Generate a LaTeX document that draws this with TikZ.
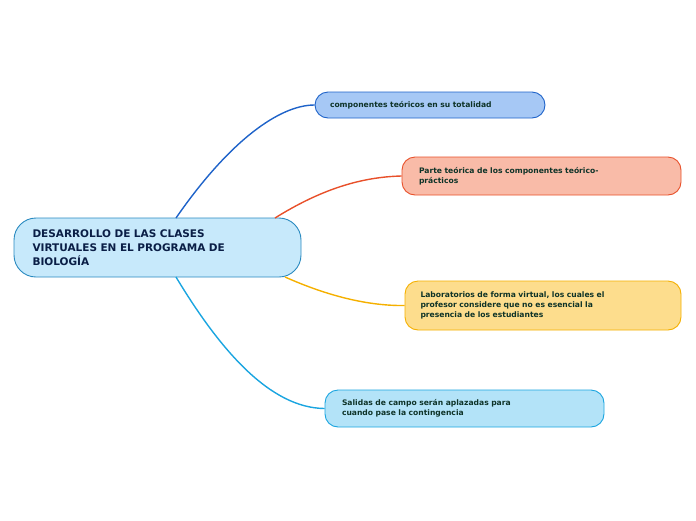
\documentclass[tikz,border=0pt]{standalone}
\usepackage{fontspec}
\setmainfont{DejaVu Sans}
\begin{document}
\begin{tikzpicture}[x=1pt,y=-1pt,
  box/.style={draw,line width=0.9pt,rounded corners=13pt,inner sep=0pt,font=\bfseries\fontsize{7.6}{10}\selectfont,text=black!80!green!60!blue,align=left},
  link/.style={line width=1.4pt}]
\useasboundingbox (0,0) rectangle (696,520);
\definecolor{tc}{HTML}{0E3328}
\node[box,fill={rgb,255:red,199;green,233;blue,251},draw={rgb,255:red,42;green,138;blue,192},minimum width=287pt,minimum height=59pt,text width=250pt,rounded corners=22pt,font=\bfseries\fontsize{10.5}{14}\selectfont,text={rgb,255:red,10;green,30;blue,70}] (c) at (157.5,247.5) {DESARROLLO DE LAS CLASES\\VIRTUALES EN EL PROGRAMA DE\\BIOLOGÍA};
\node[box,text=tc,fill={rgb,255:red,166;green,200;blue,245},draw={rgb,255:red,31;green,99;blue,201},minimum width=230pt,minimum height=26pt,text width=200pt] (a) at (430,105) {componentes teóricos en su totalidad};
\node[box,text=tc,fill={rgb,255:red,249;green,187;blue,168},draw={rgb,255:red,232;green,80;blue,42},minimum width=279pt,minimum height=38pt,text width=245pt] (b) at (541.5,176) {Parte teórica de los componentes teórico-\\prácticos};
\node[box,text=tc,fill={rgb,255:red,253;green,221;blue,141},draw={rgb,255:red,245;green,176;blue,0},minimum width=276pt,minimum height=49pt,text width=245pt] (d) at (543,305.5) {Laboratorios de forma virtual, los cuales el\\profesor considere que no es esencial la\\presencia de los estudiantes};
\node[box,text=tc,fill={rgb,255:red,179;green,227;blue,248},draw={rgb,255:red,26;green,165;blue,224},minimum width=279pt,minimum height=37pt,text width=245pt] (e) at (464.5,408.5) {Salidas de campo serán aplazadas para\\cuando pase la contingencia};
\draw[link,draw={rgb,255:red,31;green,99;blue,201}] (176,218) .. controls (230,140) and (280,105) .. (a.west);
\draw[link,draw={rgb,255:red,232;green,80;blue,42}] (275,218) .. controls (320,190) and (360,177) .. (b.west);
\draw[link,draw={rgb,255:red,245;green,176;blue,0}] (285,277) .. controls (330,297) and (370,306) .. (d.west);
\draw[link,draw={rgb,255:red,26;green,165;blue,224}] (176,277) .. controls (220,350) and (270,408) .. (e.west);
\end{tikzpicture}
\end{document}
